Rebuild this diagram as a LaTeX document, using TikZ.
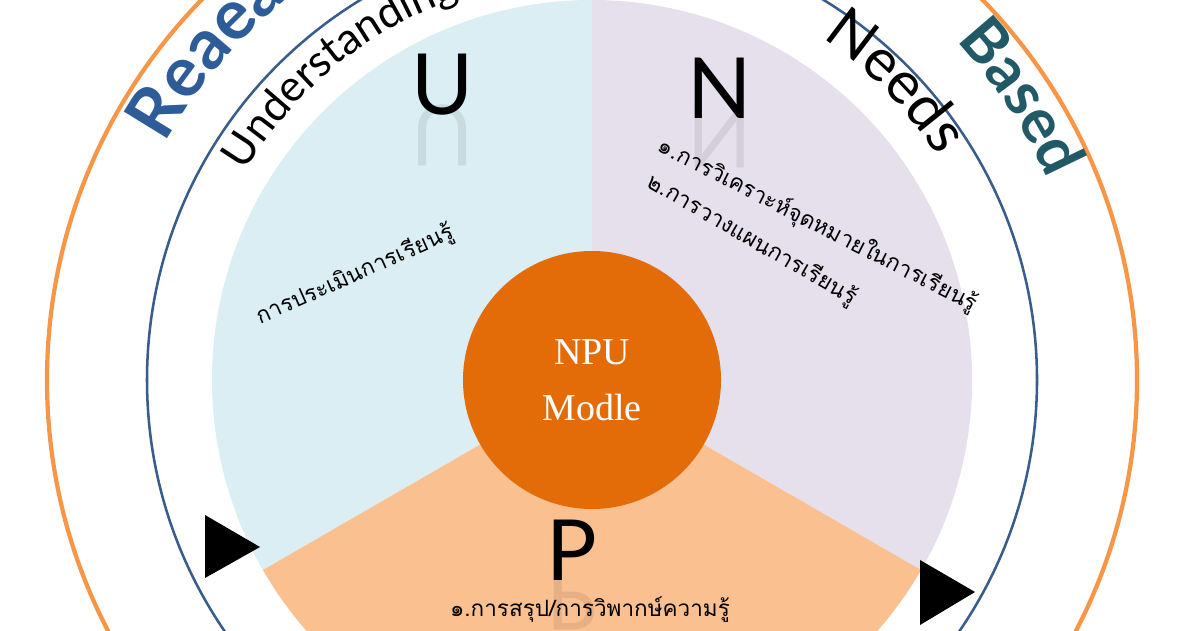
\documentclass[tikz,border=0pt]{standalone}
\usepackage{fontspec}
\setmainfont{Lato}
\newfontfamily\thai[Script=Thai]{Loma}
\newfontfamily\serifc{Liberation Serif}
\usetikzlibrary{decorations.text}
\definecolor{ublue}{HTML}{DAEEF3}
\definecolor{nlav}{HTML}{E5E0EC}
\definecolor{porg}{HTML}{FAC090}
\definecolor{corg}{HTML}{E36C09}
\definecolor{ringor}{HTML}{F79646}
\definecolor{ringbl}{HTML}{385D8A}
\definecolor{resblue}{HTML}{2E5C99}
\definecolor{teal}{HTML}{215967}
\begin{document}
\begin{tikzpicture}[x=0.025cm,y=0.025cm,
  letter/.style={font=\fontsize{60}{60}\selectfont},
  refl/.style={letter,opacity=0.08,yscale=-1},
  thaitxt/.style={font=\thai\fontsize{16}{18}\selectfont},
  tri/.style={fill=black}]
\useasboundingbox (0,0) rectangle (1200,630);
\clip (0,0) rectangle (1200,630);
\fill[white] (0,0) rectangle (1200,630);
\coordinate (C) at (592,250);
\draw[ringor,line width=3pt] (C) circle (545);
\draw[ringbl,line width=1.8pt] (C) circle (445);
\fill[ublue] (C) -- ++(90:380) arc (90:210:380) -- cycle;
\fill[nlav] (C) -- ++(-30:380) arc (-30:90:380) -- cycle;
\fill[porg] (C) -- ++(210:380) arc (210:330:380) -- cycle;
\node[circle,fill=corg,minimum size=258*0.025cm,inner sep=0,align=center,text=white,
  font=\serifc\fontsize{27}{40}\selectfont] (npu) at (C) {NPU\\Modle};
% curved texts
\path[decorate,decoration={text along path,text align=left,
  text={|\fontsize{50}{50}\selectfont\bfseries\color{resblue}|Reaearch}}]
  (C) ++(151:488) arc (151:100:488);
\path[decorate,decoration={text along path,text align=left,
  text={|\fontsize{31}{31}\selectfont|Understanding}}]
  (C) ++(149:405) arc (149:100:405);
\path[decorate,decoration={text along path,text align=left,
  text={|\fontsize{42}{42}\selectfont|Needs}}]
  (C) ++(56:412) arc (56:20:412);
\path[decorate,decoration={text along path,text align=left,
  text={|\fontsize{44}{44}\selectfont\bfseries\color{teal}|Based}}]
  (C) ++(43:498) arc (43:15:498);
% letters
\node[letter] (U) at (443,545) {U};
\node[refl] (Ur) at (443,495) {U};
\node[letter] (N) at (720,542) {N};
\node[refl] (Nr) at (720,492) {N};
\node[letter] (P) at (572,80) {P};
\node[refl] (Pr) at (572,30) {P};
% thai texts
\node[thaitxt,rotate=24] (ut) at (355,355) {การประเมินการเรียนรู้};
\node[thaitxt,rotate=-27] (nt1) at (818,405) {๑.การวิเคราะห์จุดหมายในการเรียนรู้};
\node[thaitxt,rotate=-30] (nt2) at (752,390) {๒.การวางแผนการเรียนรู้};
\node[thaitxt] (pt) at (590,20) {๑.การสรุป/การวิพากษ์ความรู้};
% triangles
\fill[tri] (205,115) -- (205,52) -- (260,83) -- cycle;
\fill[tri] (920,70) -- (920,5) -- (975,38) -- cycle;
\end{tikzpicture}
\end{document}
